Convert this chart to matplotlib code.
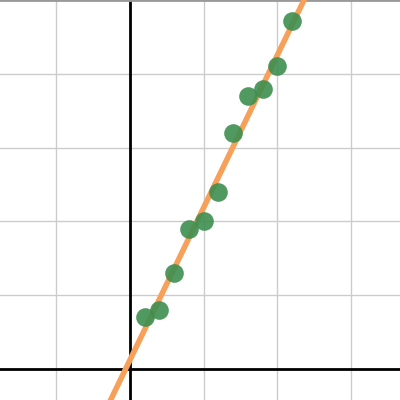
import numpy as np
import matplotlib.pyplot as plt

x = [0.2, 0.4, 0.6, 0.8, 1.0, 1.2, 1.4, 1.6, 1.8, 2.0, 2.2]
y = [0.71, 0.80, 1.30, 1.90, 2.00, 2.40, 3.20, 3.70, 3.80, 4.10, 4.71]

slope, intercept = np.polyfit(x, y, 1)

fig = plt.figure(figsize=(4, 4), dpi=100)
ax = fig.add_axes([0, 0, 1, 1])
ax.set_xlim(-1.76, 3.66)
ax.set_ylim(-0.42, 5.0)
ax.set_xticks(np.arange(-1, 4))
ax.set_yticks(np.arange(0, 6))
ax.grid(True, color='#cccccc', linewidth=1)
ax.tick_params(length=0, labelbottom=False, labelleft=False)
for s in ax.spines.values():
    s.set_visible(False)
ax.axhline(0, color='black', linewidth=2)
ax.axvline(0, color='black', linewidth=2)
ax.axhline(5.0, color='#999999', linewidth=2)

xs = np.array([-2, 4])
ax.plot(xs, slope * xs + intercept, color='#f7a05a', linewidth=4, zorder=3)
ax.scatter(x, y, s=180, color='#3d8e4f', alpha=0.9, zorder=4, linewidths=0)

fig.savefig('out.png')
